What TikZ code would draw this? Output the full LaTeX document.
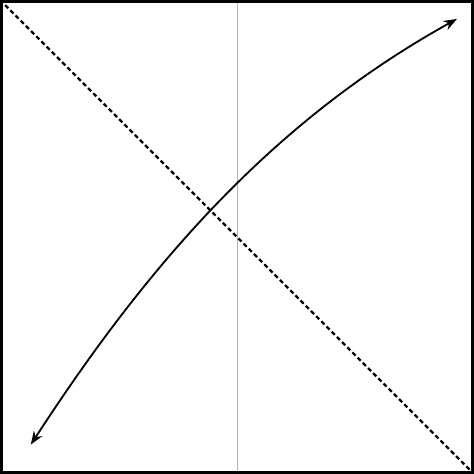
\documentclass[tikz,border=0pt]{standalone}
\usetikzlibrary{arrows.meta}

\begin{document}
\begin{tikzpicture}
	\useasboundingbox (0,0) rectangle (10,10);
	\coordinate (tl) at (0,10);
	\coordinate (br) at (10,0);
	\coordinate (top) at (5,10);
	\coordinate (bot) at (5,0);
	\coordinate (lo) at (0.65,0.62);
	\coordinate (hi) at (9.64,9.6);

	\draw[gray!60, line width=0.6pt] (top) -- (bot);
	\draw[line width=1.3pt, dash pattern=on 2.6pt off 1.8pt] (tl) -- (br);
	\draw[arrows={Stealth[length=8pt,width=6pt]-Stealth[length=8pt,width=6pt]}, line width=1.1pt]
		(lo) to [out=57,in=209,looseness=0.9] (hi);

	\draw[line width=0.06cm] (0.03,0.03) rectangle (9.97,9.97);
\end{tikzpicture}
\end{document}
